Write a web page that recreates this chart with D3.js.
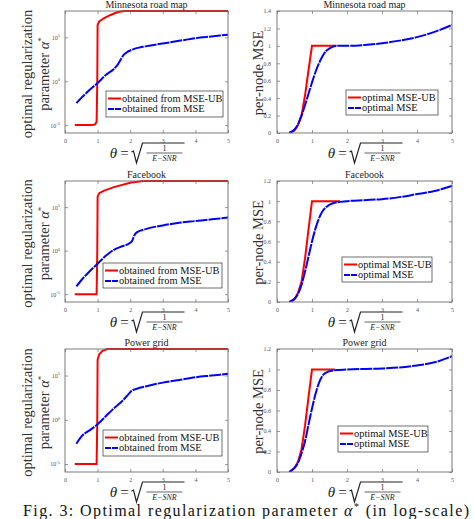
<!DOCTYPE html>
<html>
<head>
<meta charset="utf-8">
<script src="https://cdn.jsdelivr.net/npm/d3@7/dist/d3.min.js"></script>
<style>
  body { margin: 0; background: #fff; }
  svg { display: block; }
  text { font-family: "Liberation Serif", "DejaVu Serif", serif; }
</style>
</head>
<body>
<svg id="fig" width="474" height="519"></svg>
<script>
// ---- values ----
const titles = ["Minnesota road map", "Facebook", "Power grid"]
const thetaTicks = [0, 1, 2, 3, 4, 5]
const alphaTicks = [-5, 0, 5] // log10 of alpha
const alphaDomain = [-5.9, 8]
const mseTicksTop = [0, 0.2, 0.4, 0.6, 0.8, 1, 1.2, 1.4]
const mseTicks = [0, 0.2, 0.4, 0.6, 0.8, 1, 1.2]
const alphaLegend = ["obtained from MSE-UB", "obtained from MSE"]
const mseLegend = ["optimal MSE-UB", "optimal MSE"]

// alpha* (log10) vs theta
const mnUbTheta = [0.3, 0.85, 0.93, 0.97, 0.99, 1.0, 1.05, 1.2, 1.4, 1.6, 1.8, 5]
const mnUbAlpha = [-5, -5, -4.9, -4.6, 0, 6.4, 6.8, 7.2, 7.55, 7.85, 8, 8]
const mnMseTheta = [0.35, 0.5, 0.75, 1.0, 1.25, 1.5, 1.6, 1.7, 1.8, 1.9, 2.0, 2.5, 3, 3.5, 4, 4.5, 5]
const mnMseAlpha = [-2.5, -1.9, -1.0, -0.2, 0.7, 1.4, 1.8, 2.4, 3.0, 3.3, 3.5, 4.0, 4.3, 4.6, 4.9, 5.1, 5.3]

const fbUbTheta = [0.3, 0.97, 0.99, 1.0, 1.05, 1.2, 1.5, 2.0, 2.4, 5]
const fbUbAlpha = [-5, -5, 0, 6.2, 6.6, 6.9, 7.3, 7.8, 8, 8]
const fbMseTheta = [0.35, 0.5, 0.75, 1.0, 1.25, 1.5, 1.75, 2.0, 2.07, 2.12, 2.2, 2.5, 3, 3.5, 4, 4.5, 5]
const fbMseAlpha = [-4.1, -3.4, -2.4, -1.5, -0.6, 0.1, 0.5, 0.9, 1.2, 1.7, 2.1, 2.5, 2.9, 3.2, 3.4, 3.6, 3.8]

const pgUbTheta = [0.3, 0.97, 0.99, 1.0, 1.05, 1.15, 1.3, 5]
const pgUbAlpha = [-5, -5, 0, 6.8, 7.4, 7.8, 8, 8]
const pgMseTheta = [0.35, 0.5, 0.75, 1.0, 1.25, 1.5, 1.75, 1.95, 2.05, 2.2, 2.5, 3, 3.5, 4, 4.5, 5]
const pgMseAlpha = [-2.7, -1.9, -1.2, -0.5, 0.4, 1.3, 2.1, 2.9, 3.3, 3.5, 3.8, 4.2, 4.5, 4.8, 5.0, 5.2]

// per-node MSE vs theta
const mnMseUbTheta = [0.35, 0.5, 0.6, 0.7, 0.8, 0.9, 1.0, 1.7]
const mnMseUbValue = [0, 0.03, 0.09, 0.2, 0.43, 0.72, 1.0, 1.0]
const mnMseOptTheta = [0.35, 0.5, 0.6, 0.7, 0.8, 0.9, 1.0, 1.1, 1.2, 1.3, 1.4, 1.5, 1.7, 2, 2.5, 3, 3.5, 4, 4.5, 5]
const mnMseOptValue = [0, 0.04, 0.1, 0.2, 0.32, 0.45, 0.58, 0.7, 0.8, 0.88, 0.94, 0.97, 1.0, 1.0, 1.01, 1.03, 1.06, 1.1, 1.16, 1.24]

const fbMseUbTheta = [0.35, 0.5, 0.6, 0.7, 0.8, 0.9, 1.0, 1.8]
const fbMseUbValue = [0, 0.03, 0.09, 0.2, 0.43, 0.72, 1.0, 1.0]
const fbMseOptTheta = [0.35, 0.5, 0.6, 0.7, 0.8, 0.9, 1.0, 1.1, 1.2, 1.3, 1.4, 1.6, 2, 2.5, 3, 3.5, 4, 4.5, 5]
const fbMseOptValue = [0, 0.03, 0.08, 0.17, 0.3, 0.45, 0.6, 0.73, 0.83, 0.9, 0.94, 0.98, 1.0, 1.01, 1.02, 1.04, 1.07, 1.1, 1.15]

const pgMseUbTheta = [0.35, 0.5, 0.6, 0.7, 0.8, 0.9, 1.0, 1.65]
const pgMseUbValue = [0, 0.04, 0.1, 0.22, 0.45, 0.73, 1.0, 1.0]
const pgMseOptTheta = [0.35, 0.5, 0.6, 0.7, 0.8, 0.9, 1.0, 1.1, 1.2, 1.3, 1.4, 1.6, 2, 3, 3.5, 4, 4.5, 5]
const pgMseOptValue = [0, 0.04, 0.09, 0.18, 0.3, 0.46, 0.62, 0.76, 0.87, 0.94, 0.97, 0.99, 1.0, 1.01, 1.02, 1.04, 1.07, 1.13]

// ---- layout ----
const rows = [
  { top: 11, bottom: 133 },
  { top: 181, bottom: 302 },
  { top: 349, bottom: 472 },
]
const leftCol = { left: 65, right: 228 }
const rightCol = { left: 277, right: 452 }
const leftLegends = [[106, 91, 117, 26], [103, 263, 119, 25], [103, 430, 119, 26]]
const rightLegends = [[346, 90, 92, 25], [342, 257, 90, 25], [338, 426, 90, 26]]

const RED = "#ff0000"
const BLUE = "#0000ff"
const AXIS = "#6e6e6e"

const svg = d3.select("#fig")
const zip = (xs, ys) => xs.map((x, i) => [x, ys[i]])

// theta = sqrt(1 / (E-SNR)) under each panel
const thetaLabel = (g, cx, by) => {
  const t = g.append("g").attr("transform", "translate(" + cx + "," + by + ")").attr("fill", "#222")
  t.append("text").attr("x", -33).attr("y", 25).attr("text-anchor", "middle")
    .attr("font-size", 15).attr("font-style", "italic").text("θ")
  t.append("text").attr("x", -22).attr("y", 25).attr("text-anchor", "middle")
    .attr("font-size", 15).text("=")
  t.append("path")
    .attr("d", "M-15,19 L-13,18 L-10,30 L-4,10 L38,10")
    .attr("fill", "none").attr("stroke", "#222").attr("stroke-width", 1.2)
  t.append("text").attr("x", 18).attr("y", 18).attr("text-anchor", "middle")
    .attr("font-size", 8).text("1")
  t.append("line").attr("x1", 0).attr("x2", 36).attr("y1", 20).attr("y2", 20)
    .attr("stroke", "#222").attr("stroke-width", 0.7)
  t.append("text").attr("x", 18).attr("y", 27.5).attr("text-anchor", "middle")
    .attr("font-size", 8).attr("font-style", "italic").text("E−SNR")
}

const drawPanel = (cfg) => {
  const { col, row, log, yTicks, yMax, series, legend, legendBox, title } = cfg
  const x = d3.scaleLinear().domain([0, 5]).range([col.left, col.right])
  const y = log
    ? d3.scaleLog().domain(alphaDomain.map((e) => 10 ** e)).range([row.bottom, row.top])
    : d3.scaleLinear().domain([0, yMax]).range([row.bottom, row.top])

  const g = svg.append("g")

  /*
    Curves
  */
  const clipId = "clip" + Math.round(col.left) + "_" + row.top
  g.append("clipPath").attr("id", clipId)
    .append("rect")
    .attr("x", col.left).attr("y", row.top - 2)
    .attr("width", col.right - col.left).attr("height", row.bottom - row.top + 2)

  const line = d3.line()
    .x((d) => x(d[0]))
    .y((d) => y(log ? 10 ** d[1] : d[1]))

  series.forEach((s, i) => {
    g.append("path")
      .attr("clip-path", "url(#" + clipId + ")")
      .attr("d", line.curve(i === 0 ? d3.curveLinear : d3.curveMonotoneX)(s))
      .attr("fill", "none")
      .attr("stroke", i === 0 ? RED : BLUE)
      .attr("stroke-width", 2)
      .attr("stroke-dasharray", i === 0 ? null : "12,1")
  })

  /*
    Axes box with inward ticks
  */
  const fmt = d3.format("~g")
  const bottomAxis = d3.axisBottom(x).tickValues(thetaTicks).tickSize(-3).tickPadding(6).tickFormat(fmt)
  const leftAxis = log
    ? d3.axisLeft(y).tickValues(alphaTicks.map((e) => 10 ** e)).tickSize(-3).tickPadding(5)
    : d3.axisLeft(y).tickValues(yTicks).tickSize(-3).tickPadding(6).tickFormat(fmt)

  g.append("g").attr("transform", "translate(0," + row.bottom + ")").call(bottomAxis)
  const ly = g.append("g").attr("transform", "translate(" + col.left + ",0)").call(leftAxis)
  g.append("g").attr("transform", "translate(0," + row.top + ")")
    .call(d3.axisTop(x).tickValues(thetaTicks).tickSize(-3).tickFormat(""))
  g.append("g").attr("transform", "translate(" + col.right + ",0)")
    .call(leftAxis.tickSize(3).tickFormat("").tickPadding(0))

  g.selectAll(".domain").remove()
  g.selectAll(".tick line").attr("stroke", AXIS).attr("stroke-width", 0.7)
  g.selectAll(".tick text").attr("fill", "#555").attr("font-size", 6)
    .attr("font-family", "Liberation Sans, Arial, sans-serif")

  if (log) {
    ly.selectAll(".tick text").each(function (d) {
      const t = d3.select(this).text("")
      t.append("tspan").text("10")
      t.append("tspan").attr("dy", -2.5).attr("font-size", 4.5).text(Math.round(Math.log10(d)))
    })
  }

  g.append("rect")
    .attr("x", col.left).attr("y", row.top)
    .attr("width", col.right - col.left).attr("height", row.bottom - row.top)
    .attr("fill", "none").attr("stroke", AXIS).attr("stroke-width", 0.9)

  /*
    Title
  */
  g.append("text")
    .attr("x", (col.left + col.right) / 2).attr("y", row.top - 3)
    .attr("text-anchor", "middle").attr("font-size", 10).attr("fill", "#222")
    .text(title)

  /*
    Legend
  */
  const [lx, lyy, lw, lh] = legendBox
  const lg = g.append("g")
  lg.append("rect").attr("x", lx).attr("y", lyy).attr("width", lw).attr("height", lh)
    .attr("fill", "#fff").attr("stroke", "#333").attr("stroke-width", 0.7)
  legend.forEach((name, i) => {
    const yy = lyy + 7.5 + i * 10.5
    lg.append("line")
      .attr("x1", lx + 2).attr("x2", lx + 15).attr("y1", yy).attr("y2", yy)
      .attr("stroke", i === 0 ? RED : BLUE).attr("stroke-width", 2)
      .attr("stroke-dasharray", i === 0 ? null : "6,1")
    lg.append("text").attr("x", lx + 16).attr("y", yy + 3)
      .attr("font-size", 10.4).attr("fill", "#111").text(name)
  })

  thetaLabel(g, (col.left + col.right) / 2, row.bottom)
}

const alphaSeries = [
  [zip(mnUbTheta, mnUbAlpha), zip(mnMseTheta, mnMseAlpha)],
  [zip(fbUbTheta, fbUbAlpha), zip(fbMseTheta, fbMseAlpha)],
  [zip(pgUbTheta, pgUbAlpha), zip(pgMseTheta, pgMseAlpha)],
]
const mseSeries = [
  [zip(mnMseUbTheta, mnMseUbValue), zip(mnMseOptTheta, mnMseOptValue)],
  [zip(fbMseUbTheta, fbMseUbValue), zip(fbMseOptTheta, fbMseOptValue)],
  [zip(pgMseUbTheta, pgMseUbValue), zip(pgMseOptTheta, pgMseOptValue)],
]

rows.forEach((row, i) => {
  drawPanel({
    col: leftCol, row, log: true, series: alphaSeries[i],
    legend: alphaLegend, legendBox: leftLegends[i], title: titles[i],
  })
  drawPanel({
    col: rightCol, row, log: false,
    yTicks: i === 0 ? mseTicksTop : mseTicks,
    yMax: i === 0 ? 1.4 : 1.2,
    series: mseSeries[i],
    legend: mseLegend, legendBox: rightLegends[i], title: titles[i],
  })

  const cy = (row.top + row.bottom) / 2 + 2
  svg.append("text")
    .attr("transform", "translate(32," + cy + ") rotate(-90)")
    .attr("text-anchor", "middle").attr("font-size", 14.5).attr("fill", "#333")
    .text("optimal regularization")
  const p = svg.append("text")
    .attr("transform", "translate(49," + cy + ") rotate(-90)")
    .attr("text-anchor", "middle").attr("font-size", 14.5).attr("fill", "#333")
  p.append("tspan").text("parameter ")
  p.append("tspan").attr("font-style", "italic").text("α")
  p.append("tspan").attr("dy", -5).attr("font-size", 9).text("*")

  svg.append("text")
    .attr("transform", "translate(263," + (cy - 1) + ") rotate(-90)")
    .attr("text-anchor", "middle").attr("font-size", 14.5).attr("fill", "#333")
    .text("per-node MSE")
})

// caption along the bottom edge
const cap = svg.append("text")
  .attr("x", 23).attr("y", 515.5).attr("font-size", 16).attr("fill", "#111")
  .attr("textLength", 446).attr("lengthAdjust", "spacing")
cap.append("tspan").text("Fig. 3: Optimal regularization parameter ")
cap.append("tspan").attr("font-style", "italic").text("α")
cap.append("tspan").attr("dy", -6).attr("font-size", 10).text("*")
cap.append("tspan").attr("dy", 6).text(" (in log-scale)")
</script>
</body>
</html>
